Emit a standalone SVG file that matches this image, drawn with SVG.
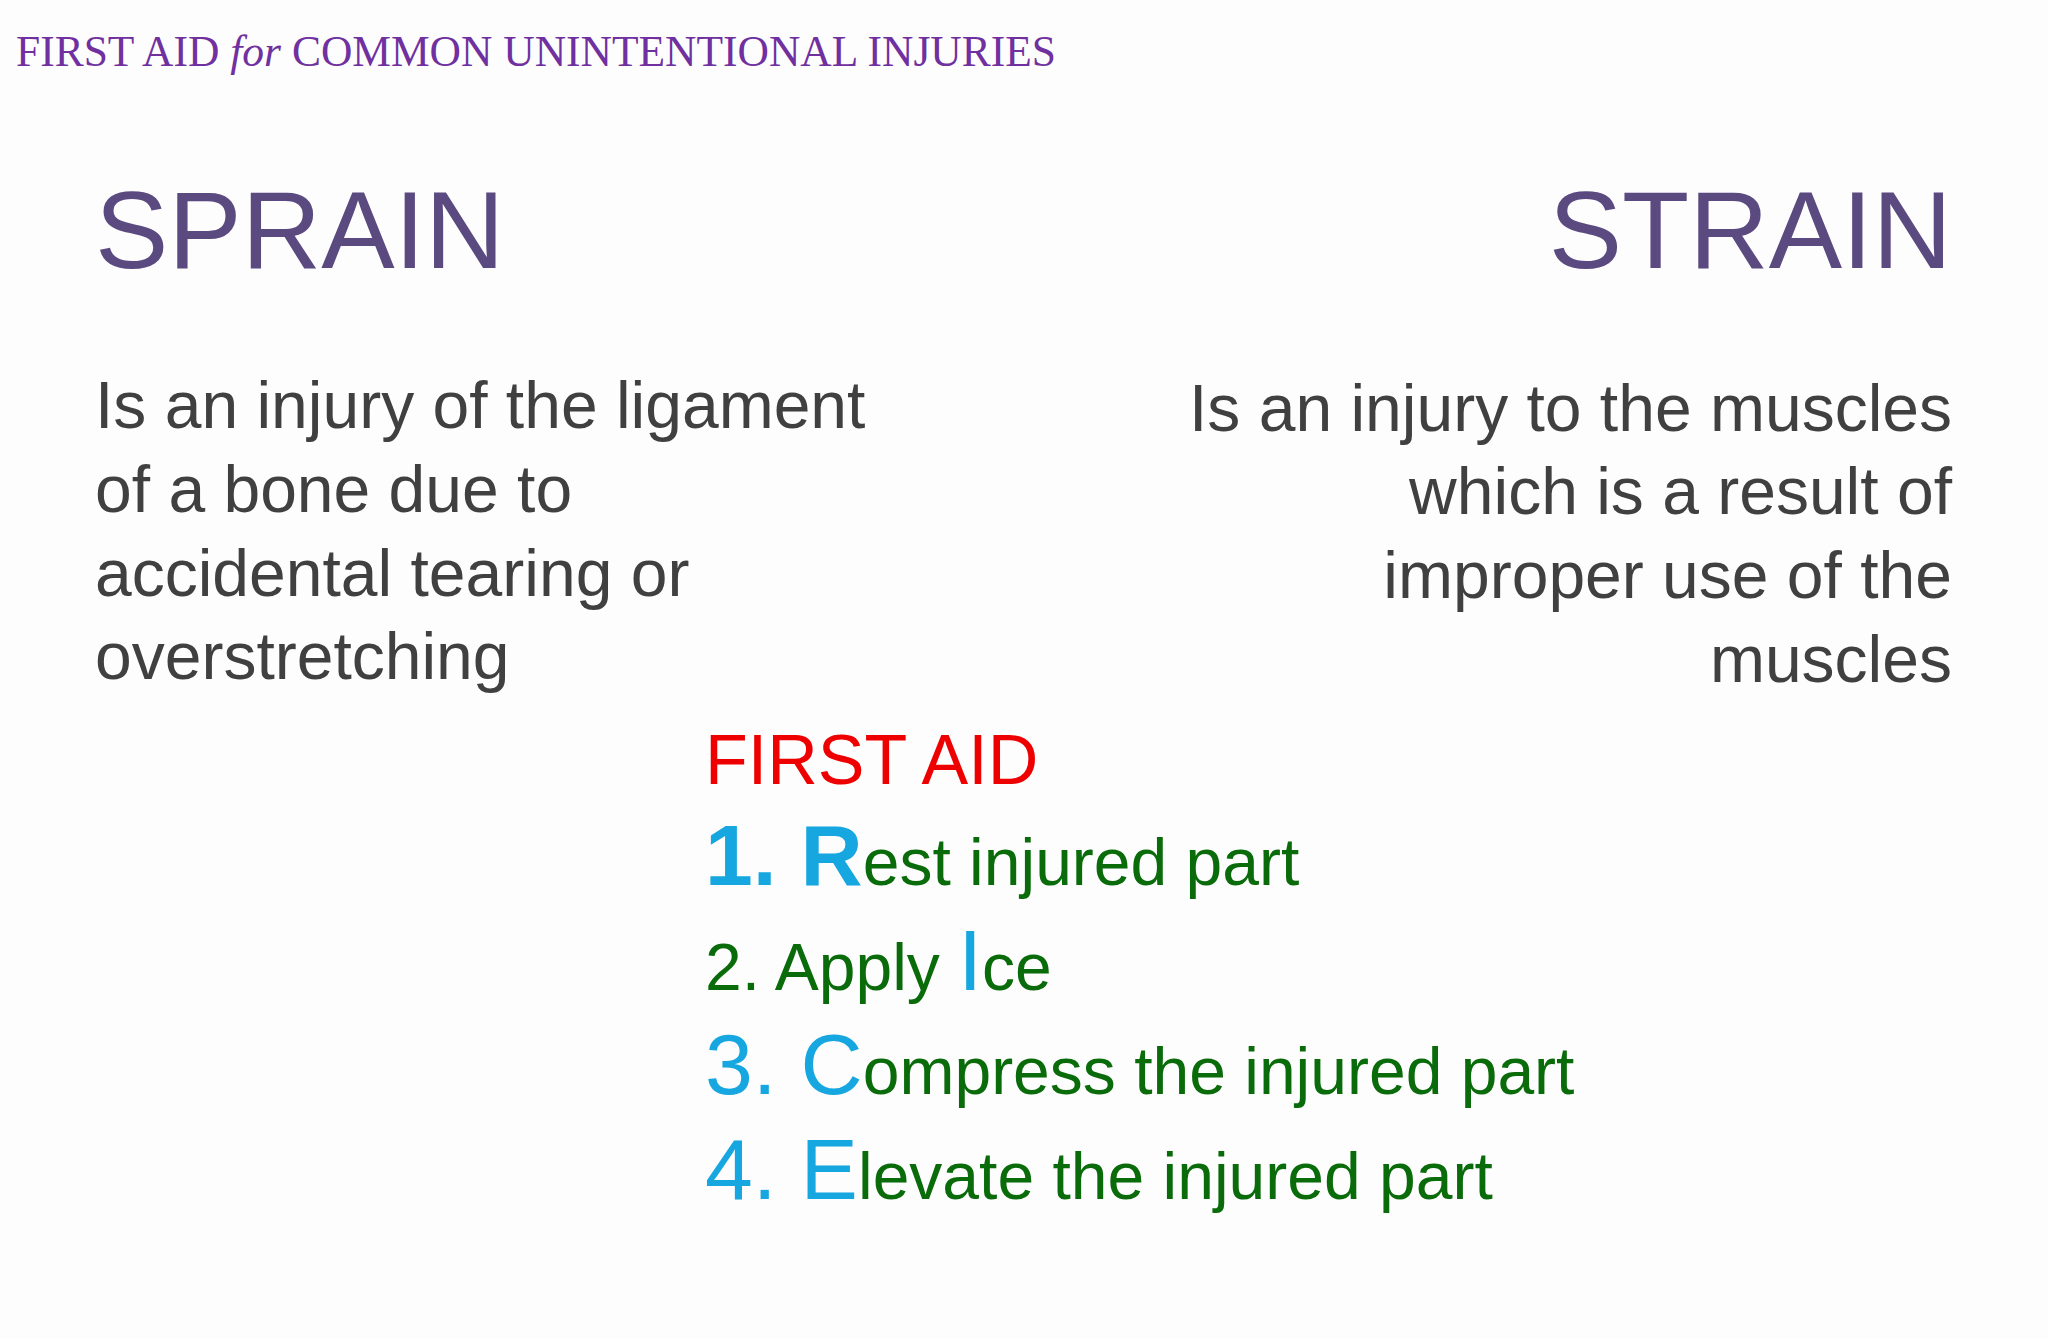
<svg xmlns="http://www.w3.org/2000/svg" width="2048" height="1339" viewBox="0 0 2048 1339">
<style>
.h{font-family:"Liberation Serif",serif;font-size:44px;fill:#7030a0}
.t{font-family:"Liberation Sans",Arial,sans-serif;font-size:110px;fill:#5b4a80}
.b{font-family:"Liberation Sans",Arial,sans-serif;font-size:66px;fill:#404040}
.fa{font-family:"Liberation Sans",Arial,sans-serif;font-size:70px;fill:#ee0000}
.g{font-family:"Liberation Sans",Arial,sans-serif;font-size:66px;fill:#0a6b0a}
.c{fill:#16a6e0}
</style>
<rect width="2048" height="1339" fill="#fdfdfd"/>
<g id="header"><text class="h" x="16" y="66" textLength="1040" lengthAdjust="spacingAndGlyphs">FIRST AID <tspan font-style="italic">for</tspan> COMMON UNINTENTIONAL INJURIES</text></g>
<g id="sprain">
<text class="t" x="95" y="268">SPRAIN</text>
<text class="b" x="95" y="428">Is an injury of the ligament</text>
<text class="b" x="95" y="512">of a bone due to</text>
<text class="b" x="95" y="596">accidental tearing or</text>
<text class="b" x="95" y="679">overstretching</text>
</g>
<g id="strain" text-anchor="end">
<text class="t" x="1952" y="268">STRAIN</text>
<text class="b" x="1952" y="431">Is an injury to the muscles</text>
<text class="b" x="1952" y="514">which is a result of</text>
<text class="b" x="1952" y="598">improper use of the</text>
<text class="b" x="1952" y="682">muscles</text>
</g>
<g id="firstaid">
<text class="fa" x="705" y="784">FIRST AID</text>
<text class="g" x="705" y="885"><tspan class="c" font-weight="bold" font-size="86">1. R</tspan>est injured part</text>
<text class="g" x="705" y="990">2.  Apply <tspan class="c" font-size="86">I</tspan>ce</text>
<text class="g" x="705" y="1094"><tspan class="c" font-size="86">3. C</tspan>ompress the injured part</text>
<text class="g" x="705" y="1199"><tspan class="c" font-size="86">4. E</tspan>levate the injured part</text>
</g>
</svg>
